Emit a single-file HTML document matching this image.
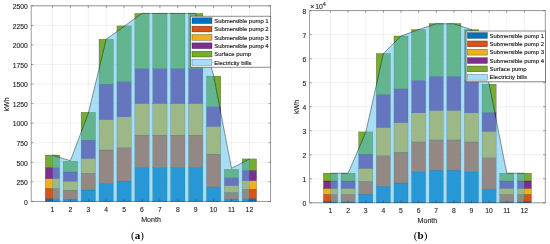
<!DOCTYPE html>
<html><head><meta charset="utf-8"><title>Monthly energy</title>
<style>html,body{margin:0;padding:0;background:#fff}svg{display:block}</style></head>
<body>
<svg width="550" height="244" viewBox="0 0 550 244">
<rect width="550" height="244" fill="#fff"/>
<path d="M52.50 5.8V201.4 M70.40 5.8V201.4 M88.30 5.8V201.4 M106.20 5.8V201.4 M124.10 5.8V201.4 M142.00 5.8V201.4 M159.90 5.8V201.4 M177.80 5.8V201.4 M195.70 5.8V201.4 M213.60 5.8V201.4 M231.50 5.8V201.4 M249.40 5.8V201.4 M31.2 201.40H270.6 M31.2 181.84H270.6 M31.2 162.28H270.6 M31.2 142.72H270.6 M31.2 123.16H270.6 M31.2 103.60H270.6 M31.2 84.04H270.6 M31.2 64.48H270.6 M31.2 44.92H270.6 M31.2 25.36H270.6 M31.2 5.80H270.6" stroke="#262626" stroke-opacity="0.10" stroke-width="0.6" fill="none"/>
<g stroke="#000" stroke-opacity="0.5" stroke-width="0.4">
<rect x="45.34" y="198.60" width="14.32" height="2.80" fill="#0072BD"/>
<rect x="45.34" y="188.40" width="14.32" height="10.20" fill="#D95319"/>
<rect x="45.34" y="178.50" width="14.32" height="9.90" fill="#EDB120"/>
<rect x="45.34" y="167.50" width="14.32" height="11.00" fill="#7E2F8E"/>
<rect x="45.34" y="155.00" width="14.32" height="12.50" fill="#77AC30"/>
<rect x="63.24" y="199.20" width="14.32" height="2.20" fill="#0072BD"/>
<rect x="63.24" y="190.20" width="14.32" height="9.00" fill="#D95319"/>
<rect x="63.24" y="181.10" width="14.32" height="9.10" fill="#EDB120"/>
<rect x="63.24" y="172.00" width="14.32" height="9.10" fill="#7E2F8E"/>
<rect x="63.24" y="161.20" width="14.32" height="10.80" fill="#77AC30"/>
<rect x="81.14" y="190.00" width="14.32" height="11.40" fill="#0072BD"/>
<rect x="81.14" y="173.30" width="14.32" height="16.70" fill="#D95319"/>
<rect x="81.14" y="158.40" width="14.32" height="14.90" fill="#EDB120"/>
<rect x="81.14" y="140.20" width="14.32" height="18.20" fill="#7E2F8E"/>
<rect x="81.14" y="112.30" width="14.32" height="27.90" fill="#77AC30"/>
<rect x="99.04" y="183.40" width="14.32" height="18.00" fill="#0072BD"/>
<rect x="99.04" y="150.00" width="14.32" height="33.40" fill="#D95319"/>
<rect x="99.04" y="119.60" width="14.32" height="30.40" fill="#EDB120"/>
<rect x="99.04" y="84.20" width="14.32" height="35.40" fill="#7E2F8E"/>
<rect x="99.04" y="39.30" width="14.32" height="44.90" fill="#77AC30"/>
<rect x="116.94" y="181.10" width="14.32" height="20.30" fill="#0072BD"/>
<rect x="116.94" y="147.70" width="14.32" height="33.40" fill="#D95319"/>
<rect x="116.94" y="116.80" width="14.32" height="30.90" fill="#EDB120"/>
<rect x="116.94" y="81.70" width="14.32" height="35.10" fill="#7E2F8E"/>
<rect x="116.94" y="25.90" width="14.32" height="55.80" fill="#77AC30"/>
<rect x="134.84" y="167.50" width="14.32" height="33.90" fill="#0072BD"/>
<rect x="134.84" y="135.20" width="14.32" height="32.30" fill="#D95319"/>
<rect x="134.84" y="103.50" width="14.32" height="31.70" fill="#EDB120"/>
<rect x="134.84" y="68.60" width="14.32" height="34.90" fill="#7E2F8E"/>
<rect x="134.84" y="13.40" width="14.32" height="55.20" fill="#77AC30"/>
<rect x="152.74" y="167.50" width="14.32" height="33.90" fill="#0072BD"/>
<rect x="152.74" y="135.20" width="14.32" height="32.30" fill="#D95319"/>
<rect x="152.74" y="103.50" width="14.32" height="31.70" fill="#EDB120"/>
<rect x="152.74" y="68.60" width="14.32" height="34.90" fill="#7E2F8E"/>
<rect x="152.74" y="13.40" width="14.32" height="55.20" fill="#77AC30"/>
<rect x="170.64" y="167.50" width="14.32" height="33.90" fill="#0072BD"/>
<rect x="170.64" y="135.20" width="14.32" height="32.30" fill="#D95319"/>
<rect x="170.64" y="103.50" width="14.32" height="31.70" fill="#EDB120"/>
<rect x="170.64" y="68.60" width="14.32" height="34.90" fill="#7E2F8E"/>
<rect x="170.64" y="13.40" width="14.32" height="55.20" fill="#77AC30"/>
<rect x="188.54" y="167.50" width="14.32" height="33.90" fill="#0072BD"/>
<rect x="188.54" y="135.20" width="14.32" height="32.30" fill="#D95319"/>
<rect x="188.54" y="103.50" width="14.32" height="31.70" fill="#EDB120"/>
<rect x="188.54" y="68.60" width="14.32" height="34.90" fill="#7E2F8E"/>
<rect x="188.54" y="13.40" width="14.32" height="55.20" fill="#77AC30"/>
<rect x="206.44" y="186.80" width="14.32" height="14.60" fill="#0072BD"/>
<rect x="206.44" y="154.20" width="14.32" height="32.60" fill="#D95319"/>
<rect x="206.44" y="126.20" width="14.32" height="28.00" fill="#EDB120"/>
<rect x="206.44" y="106.80" width="14.32" height="19.40" fill="#7E2F8E"/>
<rect x="206.44" y="76.10" width="14.32" height="30.70" fill="#77AC30"/>
<rect x="224.34" y="199.10" width="14.32" height="2.30" fill="#0072BD"/>
<rect x="224.34" y="192.40" width="14.32" height="6.70" fill="#D95319"/>
<rect x="224.34" y="185.50" width="14.32" height="6.90" fill="#EDB120"/>
<rect x="224.34" y="177.80" width="14.32" height="7.70" fill="#7E2F8E"/>
<rect x="224.34" y="169.30" width="14.32" height="8.50" fill="#77AC30"/>
<rect x="242.24" y="198.60" width="14.32" height="2.80" fill="#0072BD"/>
<rect x="242.24" y="189.30" width="14.32" height="9.30" fill="#D95319"/>
<rect x="242.24" y="180.60" width="14.32" height="8.70" fill="#EDB120"/>
<rect x="242.24" y="170.40" width="14.32" height="10.20" fill="#7E2F8E"/>
<rect x="242.24" y="158.90" width="14.32" height="11.50" fill="#77AC30"/>
</g>
<polygon points="52.50,201.4 52.50,155.30 70.40,160.70 88.30,113.30 106.20,39.30 124.10,26.30 142.00,13.40 159.90,13.40 177.80,13.40 195.70,13.40 213.60,75.50 231.50,168.30 249.40,159.10 249.40,201.4" fill="#4DBEEE" fill-opacity="0.5"/>
<polyline points="52.50,155.30 70.40,160.70 88.30,113.30 106.20,39.30 124.10,26.30 142.00,13.40 159.90,13.40 177.80,13.40 195.70,13.40 213.60,75.50 231.50,168.30 249.40,159.10" fill="none" stroke="#000" stroke-opacity="0.8" stroke-width="0.5" stroke-linejoin="round"/>
<path d="M52.50 201.4V155.30M249.40 201.4V159.10" fill="none" stroke="#000" stroke-opacity="0.2" stroke-width="0.4"/>
<path d="M52.50 201.4v-2.2M52.50 5.8v2.2 M70.40 201.4v-2.2M70.40 5.8v2.2 M88.30 201.4v-2.2M88.30 5.8v2.2 M106.20 201.4v-2.2M106.20 5.8v2.2 M124.10 201.4v-2.2M124.10 5.8v2.2 M142.00 201.4v-2.2M142.00 5.8v2.2 M159.90 201.4v-2.2M159.90 5.8v2.2 M177.80 201.4v-2.2M177.80 5.8v2.2 M195.70 201.4v-2.2M195.70 5.8v2.2 M213.60 201.4v-2.2M213.60 5.8v2.2 M231.50 201.4v-2.2M231.50 5.8v2.2 M249.40 201.4v-2.2M249.40 5.8v2.2 M31.2 201.40h2.2M270.6 201.40h-2.2 M31.2 181.84h2.2M270.6 181.84h-2.2 M31.2 162.28h2.2M270.6 162.28h-2.2 M31.2 142.72h2.2M270.6 142.72h-2.2 M31.2 123.16h2.2M270.6 123.16h-2.2 M31.2 103.60h2.2M270.6 103.60h-2.2 M31.2 84.04h2.2M270.6 84.04h-2.2 M31.2 64.48h2.2M270.6 64.48h-2.2 M31.2 44.92h2.2M270.6 44.92h-2.2 M31.2 25.36h2.2M270.6 25.36h-2.2 M31.2 5.80h2.2M270.6 5.80h-2.2" stroke="#262626" stroke-opacity="0.8" stroke-width="0.5" fill="none"/>
<rect x="31.2" y="5.8" width="239.40000000000003" height="195.6" fill="none" stroke="#262626" stroke-opacity="0.5" stroke-width="0.9"/>
<g font-family='"Liberation Sans", Arial, Helvetica, sans-serif' font-size="6.8" fill="#262626" stroke="#262626" stroke-width="0.2" stroke-opacity="0.6">
<text x="52.50" y="211.90" text-anchor="middle">1</text>
<text x="70.40" y="211.90" text-anchor="middle">2</text>
<text x="88.30" y="211.90" text-anchor="middle">3</text>
<text x="106.20" y="211.90" text-anchor="middle">4</text>
<text x="124.10" y="211.90" text-anchor="middle">5</text>
<text x="142.00" y="211.90" text-anchor="middle">6</text>
<text x="159.90" y="211.90" text-anchor="middle">7</text>
<text x="177.80" y="211.90" text-anchor="middle">8</text>
<text x="195.70" y="211.90" text-anchor="middle">9</text>
<text x="213.60" y="211.90" text-anchor="middle">10</text>
<text x="231.50" y="211.90" text-anchor="middle">11</text>
<text x="249.40" y="211.90" text-anchor="middle">12</text>
<text x="27.80" y="204.65" text-anchor="end">0</text>
<text x="27.80" y="185.09" text-anchor="end">250</text>
<text x="27.80" y="165.53" text-anchor="end">500</text>
<text x="27.80" y="145.97" text-anchor="end">750</text>
<text x="27.80" y="126.41" text-anchor="end">1000</text>
<text x="27.80" y="106.85" text-anchor="end">1250</text>
<text x="27.80" y="87.29" text-anchor="end">1500</text>
<text x="27.80" y="67.73" text-anchor="end">1750</text>
<text x="27.80" y="48.17" text-anchor="end">2000</text>
<text x="27.80" y="28.61" text-anchor="end">2250</text>
<text x="27.80" y="9.05" text-anchor="end">2500</text>
</g>
<g font-family='"Liberation Sans", Arial, Helvetica, sans-serif' font-size="7.1" fill="#262626" stroke="#262626" stroke-width="0.2" stroke-opacity="0.6">
<text x="151" y="221.6" text-anchor="middle">Month</text>
<text transform="translate(8.6 104.5) rotate(-90)" text-anchor="middle">kWh</text>
</g>
<rect x="190.7" y="16.2" width="80" height="51" fill="#fff" stroke="#262626" stroke-opacity="0.75" stroke-width="0.7"/>
<g font-family='"Liberation Sans", Arial, Helvetica, sans-serif' font-size="5.95">
<rect x="192.00" y="17.80" width="20" height="5.8" fill="#0072BD" stroke="#000" stroke-opacity="0.6" stroke-width="0.45"/>
<text x="214.20" y="22.84" fill="#111" stroke="#111" stroke-width="0.2" stroke-opacity="0.6">Submersible pump 1</text>
<rect x="192.00" y="26.15" width="20" height="5.8" fill="#D95319" stroke="#000" stroke-opacity="0.6" stroke-width="0.45"/>
<text x="214.20" y="31.19" fill="#111" stroke="#111" stroke-width="0.2" stroke-opacity="0.6">Submersible pump 2</text>
<rect x="192.00" y="34.50" width="20" height="5.8" fill="#EDB120" stroke="#000" stroke-opacity="0.6" stroke-width="0.45"/>
<text x="214.20" y="39.54" fill="#111" stroke="#111" stroke-width="0.2" stroke-opacity="0.6">Submersible pump 3</text>
<rect x="192.00" y="42.85" width="20" height="5.8" fill="#7E2F8E" stroke="#000" stroke-opacity="0.6" stroke-width="0.45"/>
<text x="214.20" y="47.89" fill="#111" stroke="#111" stroke-width="0.2" stroke-opacity="0.6">Submersible pump 4</text>
<rect x="192.00" y="51.20" width="20" height="5.8" fill="#77AC30" stroke="#000" stroke-opacity="0.6" stroke-width="0.45"/>
<text x="214.20" y="56.24" fill="#111" stroke="#111" stroke-width="0.2" stroke-opacity="0.6">Surface pump</text>
<rect x="192.00" y="59.55" width="20" height="5.8" fill="#4DBEEE" fill-opacity="0.5" stroke="#000" stroke-opacity="0.6" stroke-width="0.4"/>
<text x="214.20" y="64.59" fill="#111" stroke="#111" stroke-width="0.2" stroke-opacity="0.6">Electricity bills</text>
</g>
<text x="137.4" y="238.8" text-anchor="middle" font-family='"Liberation Serif", "DejaVu Serif", serif' font-size="11" fill="#000">(<tspan font-weight="bold">a</tspan>)</text>
<path d="M330.50 10.6V202.8 M348.12 10.6V202.8 M365.75 10.6V202.8 M383.38 10.6V202.8 M401.00 10.6V202.8 M418.62 10.6V202.8 M436.25 10.6V202.8 M453.88 10.6V202.8 M471.50 10.6V202.8 M489.12 10.6V202.8 M506.75 10.6V202.8 M524.38 10.6V202.8 M309.6 202.80H545.3 M309.6 178.78H545.3 M309.6 154.76H545.3 M309.6 130.74H545.3 M309.6 106.72H545.3 M309.6 82.70H545.3 M309.6 58.68H545.3 M309.6 34.66H545.3 M309.6 10.64H545.3" stroke="#262626" stroke-opacity="0.10" stroke-width="0.6" fill="none"/>
<g stroke="#000" stroke-opacity="0.5" stroke-width="0.4">
<rect x="323.45" y="201.40" width="14.10" height="1.40" fill="#0072BD"/>
<rect x="323.45" y="194.40" width="14.10" height="7.00" fill="#D95319"/>
<rect x="323.45" y="188.20" width="14.10" height="6.20" fill="#EDB120"/>
<rect x="323.45" y="181.00" width="14.10" height="7.20" fill="#7E2F8E"/>
<rect x="323.45" y="173.20" width="14.10" height="7.80" fill="#77AC30"/>
<rect x="341.07" y="201.40" width="14.10" height="1.40" fill="#0072BD"/>
<rect x="341.07" y="194.40" width="14.10" height="7.00" fill="#D95319"/>
<rect x="341.07" y="188.20" width="14.10" height="6.20" fill="#EDB120"/>
<rect x="341.07" y="181.00" width="14.10" height="7.20" fill="#7E2F8E"/>
<rect x="341.07" y="173.20" width="14.10" height="7.80" fill="#77AC30"/>
<rect x="358.70" y="194.20" width="14.10" height="8.60" fill="#0072BD"/>
<rect x="358.70" y="181.40" width="14.10" height="12.80" fill="#D95319"/>
<rect x="358.70" y="168.30" width="14.10" height="13.10" fill="#EDB120"/>
<rect x="358.70" y="154.20" width="14.10" height="14.10" fill="#7E2F8E"/>
<rect x="358.70" y="131.90" width="14.10" height="22.30" fill="#77AC30"/>
<rect x="376.32" y="186.30" width="14.10" height="16.50" fill="#0072BD"/>
<rect x="376.32" y="155.70" width="14.10" height="30.60" fill="#D95319"/>
<rect x="376.32" y="127.50" width="14.10" height="28.20" fill="#EDB120"/>
<rect x="376.32" y="94.50" width="14.10" height="33.00" fill="#7E2F8E"/>
<rect x="376.32" y="53.50" width="14.10" height="41.00" fill="#77AC30"/>
<rect x="393.95" y="183.00" width="14.10" height="19.80" fill="#0072BD"/>
<rect x="393.95" y="152.30" width="14.10" height="30.70" fill="#D95319"/>
<rect x="393.95" y="122.60" width="14.10" height="29.70" fill="#EDB120"/>
<rect x="393.95" y="88.90" width="14.10" height="33.70" fill="#7E2F8E"/>
<rect x="393.95" y="36.00" width="14.10" height="52.90" fill="#77AC30"/>
<rect x="411.57" y="171.90" width="14.10" height="30.90" fill="#0072BD"/>
<rect x="411.57" y="141.90" width="14.10" height="30.00" fill="#D95319"/>
<rect x="411.57" y="112.80" width="14.10" height="29.10" fill="#EDB120"/>
<rect x="411.57" y="80.50" width="14.10" height="32.30" fill="#7E2F8E"/>
<rect x="411.57" y="29.60" width="14.10" height="50.90" fill="#77AC30"/>
<rect x="429.20" y="170.20" width="14.10" height="32.60" fill="#0072BD"/>
<rect x="429.20" y="139.90" width="14.10" height="30.30" fill="#D95319"/>
<rect x="429.20" y="110.20" width="14.10" height="29.70" fill="#EDB120"/>
<rect x="429.20" y="76.40" width="14.10" height="33.80" fill="#7E2F8E"/>
<rect x="429.20" y="23.50" width="14.10" height="52.90" fill="#77AC30"/>
<rect x="446.82" y="170.20" width="14.10" height="32.60" fill="#0072BD"/>
<rect x="446.82" y="139.90" width="14.10" height="30.30" fill="#D95319"/>
<rect x="446.82" y="110.20" width="14.10" height="29.70" fill="#EDB120"/>
<rect x="446.82" y="76.40" width="14.10" height="33.80" fill="#7E2F8E"/>
<rect x="446.82" y="23.50" width="14.10" height="52.90" fill="#77AC30"/>
<rect x="464.45" y="171.90" width="14.10" height="30.90" fill="#0072BD"/>
<rect x="464.45" y="141.90" width="14.10" height="30.00" fill="#D95319"/>
<rect x="464.45" y="112.80" width="14.10" height="29.10" fill="#EDB120"/>
<rect x="464.45" y="80.50" width="14.10" height="32.30" fill="#7E2F8E"/>
<rect x="464.45" y="29.60" width="14.10" height="50.90" fill="#77AC30"/>
<rect x="482.07" y="189.30" width="14.10" height="13.50" fill="#0072BD"/>
<rect x="482.07" y="157.80" width="14.10" height="31.50" fill="#D95319"/>
<rect x="482.07" y="131.20" width="14.10" height="26.60" fill="#EDB120"/>
<rect x="482.07" y="112.50" width="14.10" height="18.70" fill="#7E2F8E"/>
<rect x="482.07" y="84.20" width="14.10" height="28.30" fill="#77AC30"/>
<rect x="499.70" y="201.40" width="14.10" height="1.40" fill="#0072BD"/>
<rect x="499.70" y="194.40" width="14.10" height="7.00" fill="#D95319"/>
<rect x="499.70" y="188.20" width="14.10" height="6.20" fill="#EDB120"/>
<rect x="499.70" y="181.00" width="14.10" height="7.20" fill="#7E2F8E"/>
<rect x="499.70" y="173.20" width="14.10" height="7.80" fill="#77AC30"/>
<rect x="517.33" y="201.40" width="14.10" height="1.40" fill="#0072BD"/>
<rect x="517.33" y="194.40" width="14.10" height="7.00" fill="#D95319"/>
<rect x="517.33" y="188.20" width="14.10" height="6.20" fill="#EDB120"/>
<rect x="517.33" y="181.00" width="14.10" height="7.20" fill="#7E2F8E"/>
<rect x="517.33" y="173.20" width="14.10" height="7.80" fill="#77AC30"/>
</g>
<polygon points="330.50,202.8 330.50,173.20 348.12,173.20 365.75,132.30 383.38,53.50 401.00,36.00 418.62,29.60 436.25,23.80 453.88,23.80 471.50,29.60 489.12,84.00 506.75,173.20 524.38,173.20 524.38,202.8" fill="#4DBEEE" fill-opacity="0.5"/>
<polyline points="330.50,173.20 348.12,173.20 365.75,132.30 383.38,53.50 401.00,36.00 418.62,29.60 436.25,23.80 453.88,23.80 471.50,29.60 489.12,84.00 506.75,173.20 524.38,173.20" fill="none" stroke="#000" stroke-opacity="0.8" stroke-width="0.5" stroke-linejoin="round"/>
<path d="M330.50 202.8V173.20M524.38 202.8V173.20" fill="none" stroke="#000" stroke-opacity="0.2" stroke-width="0.4"/>
<path d="M330.50 202.8v-2.2M330.50 10.6v2.2 M348.12 202.8v-2.2M348.12 10.6v2.2 M365.75 202.8v-2.2M365.75 10.6v2.2 M383.38 202.8v-2.2M383.38 10.6v2.2 M401.00 202.8v-2.2M401.00 10.6v2.2 M418.62 202.8v-2.2M418.62 10.6v2.2 M436.25 202.8v-2.2M436.25 10.6v2.2 M453.88 202.8v-2.2M453.88 10.6v2.2 M471.50 202.8v-2.2M471.50 10.6v2.2 M489.12 202.8v-2.2M489.12 10.6v2.2 M506.75 202.8v-2.2M506.75 10.6v2.2 M524.38 202.8v-2.2M524.38 10.6v2.2 M309.6 202.80h2.2M545.3 202.80h-2.2 M309.6 178.78h2.2M545.3 178.78h-2.2 M309.6 154.76h2.2M545.3 154.76h-2.2 M309.6 130.74h2.2M545.3 130.74h-2.2 M309.6 106.72h2.2M545.3 106.72h-2.2 M309.6 82.70h2.2M545.3 82.70h-2.2 M309.6 58.68h2.2M545.3 58.68h-2.2 M309.6 34.66h2.2M545.3 34.66h-2.2 M309.6 10.64h2.2M545.3 10.64h-2.2" stroke="#262626" stroke-opacity="0.8" stroke-width="0.5" fill="none"/>
<rect x="309.6" y="10.6" width="235.69999999999993" height="192.20000000000002" fill="none" stroke="#262626" stroke-opacity="0.5" stroke-width="0.9"/>
<g font-family='"Liberation Sans", Arial, Helvetica, sans-serif' font-size="6.8" fill="#262626" stroke="#262626" stroke-width="0.2" stroke-opacity="0.6">
<text x="330.50" y="213.30" text-anchor="middle">1</text>
<text x="348.12" y="213.30" text-anchor="middle">2</text>
<text x="365.75" y="213.30" text-anchor="middle">3</text>
<text x="383.38" y="213.30" text-anchor="middle">4</text>
<text x="401.00" y="213.30" text-anchor="middle">5</text>
<text x="418.62" y="213.30" text-anchor="middle">6</text>
<text x="436.25" y="213.30" text-anchor="middle">7</text>
<text x="453.88" y="213.30" text-anchor="middle">8</text>
<text x="471.50" y="213.30" text-anchor="middle">9</text>
<text x="489.12" y="213.30" text-anchor="middle">10</text>
<text x="506.75" y="213.30" text-anchor="middle">11</text>
<text x="524.38" y="213.30" text-anchor="middle">12</text>
<text x="306.20" y="206.05" text-anchor="end">0</text>
<text x="306.20" y="182.03" text-anchor="end">1</text>
<text x="306.20" y="158.01" text-anchor="end">2</text>
<text x="306.20" y="133.99" text-anchor="end">3</text>
<text x="306.20" y="109.97" text-anchor="end">4</text>
<text x="306.20" y="85.95" text-anchor="end">5</text>
<text x="306.20" y="61.93" text-anchor="end">6</text>
<text x="306.20" y="37.91" text-anchor="end">7</text>
<text x="306.20" y="13.89" text-anchor="end">8</text>
</g>
<g font-family='"Liberation Sans", Arial, Helvetica, sans-serif' font-size="7.1" fill="#262626" stroke="#262626" stroke-width="0.2" stroke-opacity="0.6">
<text x="427.4" y="222.7" text-anchor="middle">Month</text>
<text transform="translate(299.3 107) rotate(-90)" text-anchor="middle">kWh</text>
<text x="310.2" y="8.6" font-size="6.8">×<tspan dx="1">10</tspan><tspan dy="-2.6" font-size="5.44">4</tspan></text>
</g>
<rect x="466.1" y="31.0" width="79.4" height="50.8" fill="#fff" stroke="#262626" stroke-opacity="0.75" stroke-width="0.7"/>
<g font-family='"Liberation Sans", Arial, Helvetica, sans-serif' font-size="5.95">
<rect x="467.40" y="32.60" width="20" height="5.8" fill="#0072BD" stroke="#000" stroke-opacity="0.6" stroke-width="0.45"/>
<text x="489.60" y="37.64" fill="#111" stroke="#111" stroke-width="0.2" stroke-opacity="0.6">Submersible pump 1</text>
<rect x="467.40" y="40.95" width="20" height="5.8" fill="#D95319" stroke="#000" stroke-opacity="0.6" stroke-width="0.45"/>
<text x="489.60" y="45.99" fill="#111" stroke="#111" stroke-width="0.2" stroke-opacity="0.6">Submersible pump 2</text>
<rect x="467.40" y="49.30" width="20" height="5.8" fill="#EDB120" stroke="#000" stroke-opacity="0.6" stroke-width="0.45"/>
<text x="489.60" y="54.34" fill="#111" stroke="#111" stroke-width="0.2" stroke-opacity="0.6">Submersible pump 3</text>
<rect x="467.40" y="57.65" width="20" height="5.8" fill="#7E2F8E" stroke="#000" stroke-opacity="0.6" stroke-width="0.45"/>
<text x="489.60" y="62.69" fill="#111" stroke="#111" stroke-width="0.2" stroke-opacity="0.6">Submersible pump 4</text>
<rect x="467.40" y="66.00" width="20" height="5.8" fill="#77AC30" stroke="#000" stroke-opacity="0.6" stroke-width="0.45"/>
<text x="489.60" y="71.04" fill="#111" stroke="#111" stroke-width="0.2" stroke-opacity="0.6">Surface pump</text>
<rect x="467.40" y="74.35" width="20" height="5.8" fill="#4DBEEE" fill-opacity="0.5" stroke="#000" stroke-opacity="0.6" stroke-width="0.4"/>
<text x="489.60" y="79.39" fill="#111" stroke="#111" stroke-width="0.2" stroke-opacity="0.6">Electricity bills</text>
</g>
<text x="420.6" y="238.8" text-anchor="middle" font-family='"Liberation Serif", "DejaVu Serif", serif' font-size="11" fill="#000">(<tspan font-weight="bold">b</tspan>)</text>
</svg>
</body></html>
